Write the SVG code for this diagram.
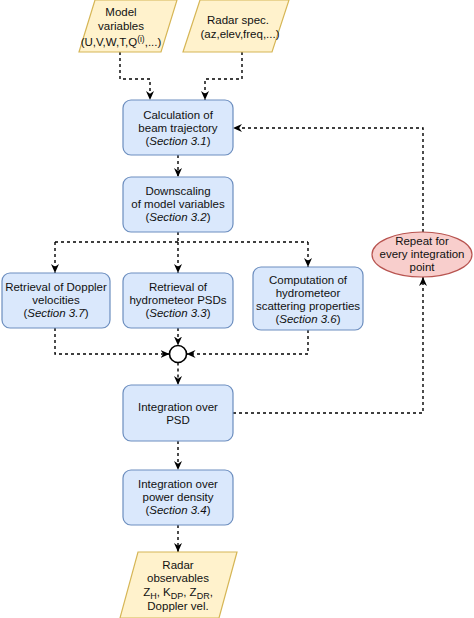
<svg xmlns="http://www.w3.org/2000/svg" width="474" height="618" viewBox="0 0 474 618">
<defs>
<style>
.blue{fill:#dae8fc;stroke:#6c8ebf;stroke-width:1.2}
.yel{fill:#fff2cc;stroke:#d6b656;stroke-width:1.2}
.red{fill:#f8cecc;stroke:#b85450;stroke-width:1.2}
.t{font-family:"Liberation Sans",Arial,Helvetica,sans-serif;font-size:11.5px;fill:#111;text-anchor:middle}
.c{fill:none;stroke:#000;stroke-width:1.4;stroke-dasharray:3 3}
.ca{fill:none;stroke:#000;stroke-width:1.4;stroke-dasharray:3 3;marker-end:url(#arr)}
</style>
<marker id="arr" markerUnits="userSpaceOnUse" markerWidth="10" markerHeight="9" refX="9" refY="4" orient="auto">
<path d="M0,0 L9,4 L0,8 L2.8,4 Z" fill="#000"/>
</marker>
</defs>
<g id="connectors">
<path class="ca" d="M120,52 V79 H150 V100"/>
<path class="ca" d="M242,52 V79 H205 V100"/>
<path class="ca" d="M178,155 V177"/>
<path class="c" d="M178,232 V242"/>
<path class="c" d="M55,242 H308"/>
<path class="ca" d="M55,242 V273"/>
<path class="ca" d="M178,242 V273"/>
<path class="ca" d="M308,242 V267"/>
<path class="ca" d="M55,328 V354 H169.5"/>
<path class="ca" d="M308,330 V354 H186.5"/>
<path class="ca" d="M178,328 V345.5"/>
<path class="ca" d="M178,362.5 V385"/>
<path class="ca" d="M233,413 H423 V277"/>
<path class="ca" d="M423,232 V128 H233"/>
<path class="ca" d="M178,441 V470"/>
<path class="ca" d="M178,525 V552"/>
</g>
<g id="model-variables">
<polygon class="yel" points="95,0 177,0 161,52 79,52"/>
<text class="t" x="121" y="16">Model</text>
<text class="t" x="121" y="30">variables</text>
<text class="t" x="121" y="46">(U,V,W,T,Q<tspan font-size="8.5" dy="-4">(i)</tspan><tspan dy="4">,...)</tspan></text>
</g>
<g id="radar-spec">
<polygon class="yel" points="200,0 289,0 272,52 183,52"/>
<text class="t" x="238" y="24">Radar spec.</text>
<text class="t" x="240" y="38">(az,elev,freq,...)</text>
</g>
<g id="beam-trajectory">
<rect class="blue" x="123" y="100" width="110" height="55" rx="8"/>
<text class="t" x="178" y="119">Calculation of</text>
<text class="t" x="178" y="132">beam trajectory</text>
<text class="t" x="178" y="145">(<tspan font-style="italic">Section 3.1</tspan>)</text>
</g>
<g id="downscaling">
<rect class="blue" x="123" y="177" width="110" height="55" rx="8"/>
<text class="t" x="178" y="195">Downscaling</text>
<text class="t" x="178" y="208">of model variables</text>
<text class="t" x="178" y="221">(<tspan font-style="italic">Section 3.2</tspan>)</text>
</g>
<g id="doppler">
<rect class="blue" x="2" y="273" width="108" height="55" rx="8"/>
<text class="t" x="56" y="291">Retrieval of Doppler</text>
<text class="t" x="56" y="304">velocities</text>
<text class="t" x="56" y="317">(<tspan font-style="italic">Section 3.7</tspan>)</text>
</g>
<g id="psd">
<rect class="blue" x="123" y="273" width="110" height="55" rx="8"/>
<text class="t" x="178" y="291">Retrieval of</text>
<text class="t" x="178" y="304">hydrometeor PSDs</text>
<text class="t" x="178" y="317">(<tspan font-style="italic">Section 3.3</tspan>)</text>
</g>
<g id="scattering">
<rect class="blue" x="253" y="267" width="110" height="63" rx="8"/>
<text class="t" x="308" y="284">Computation of</text>
<text class="t" x="308" y="297">hydrometeor</text>
<text class="t" x="308" y="310">scattering properties</text>
<text class="t" x="308" y="323">(<tspan font-style="italic">Section 3.6</tspan>)</text>
</g>
<g id="repeat">
<ellipse class="red" cx="422" cy="254.5" rx="50" ry="22.5"/>
<text class="t" x="422" y="245">Repeat for</text>
<text class="t" x="422" y="258">every integration</text>
<text class="t" x="422" y="271">point</text>
</g>
<g id="junction">
<circle cx="178" cy="354" r="8.5" fill="#fff" stroke="#000" stroke-width="1.6"/>
</g>
<g id="integration-psd">
<rect class="blue" x="123" y="385" width="110" height="56" rx="8"/>
<text class="t" x="178" y="411">Integration over</text>
<text class="t" x="178" y="424">PSD</text>
</g>
<g id="integration-power">
<rect class="blue" x="123" y="470" width="110" height="55" rx="8"/>
<text class="t" x="178" y="488">Integration over</text>
<text class="t" x="178" y="501">power density</text>
<text class="t" x="178" y="514">(<tspan font-style="italic">Section 3.4</tspan>)</text>
</g>
<g id="radar-observables">
<polygon class="yel" points="138,552 237,552 219,618 120,618"/>
<text class="t" x="178" y="569">Radar</text>
<text class="t" x="178" y="582">observables</text>
<text class="t" x="178" y="596">Z<tspan font-size="9" dy="3">H</tspan><tspan dy="-3">, K</tspan><tspan font-size="9" dy="3">DP</tspan><tspan dy="-3">, Z</tspan><tspan font-size="9" dy="3">DR</tspan><tspan dy="-3">,</tspan></text>
<text class="t" x="178" y="610">Doppler vel.</text>
</g>
</svg>
